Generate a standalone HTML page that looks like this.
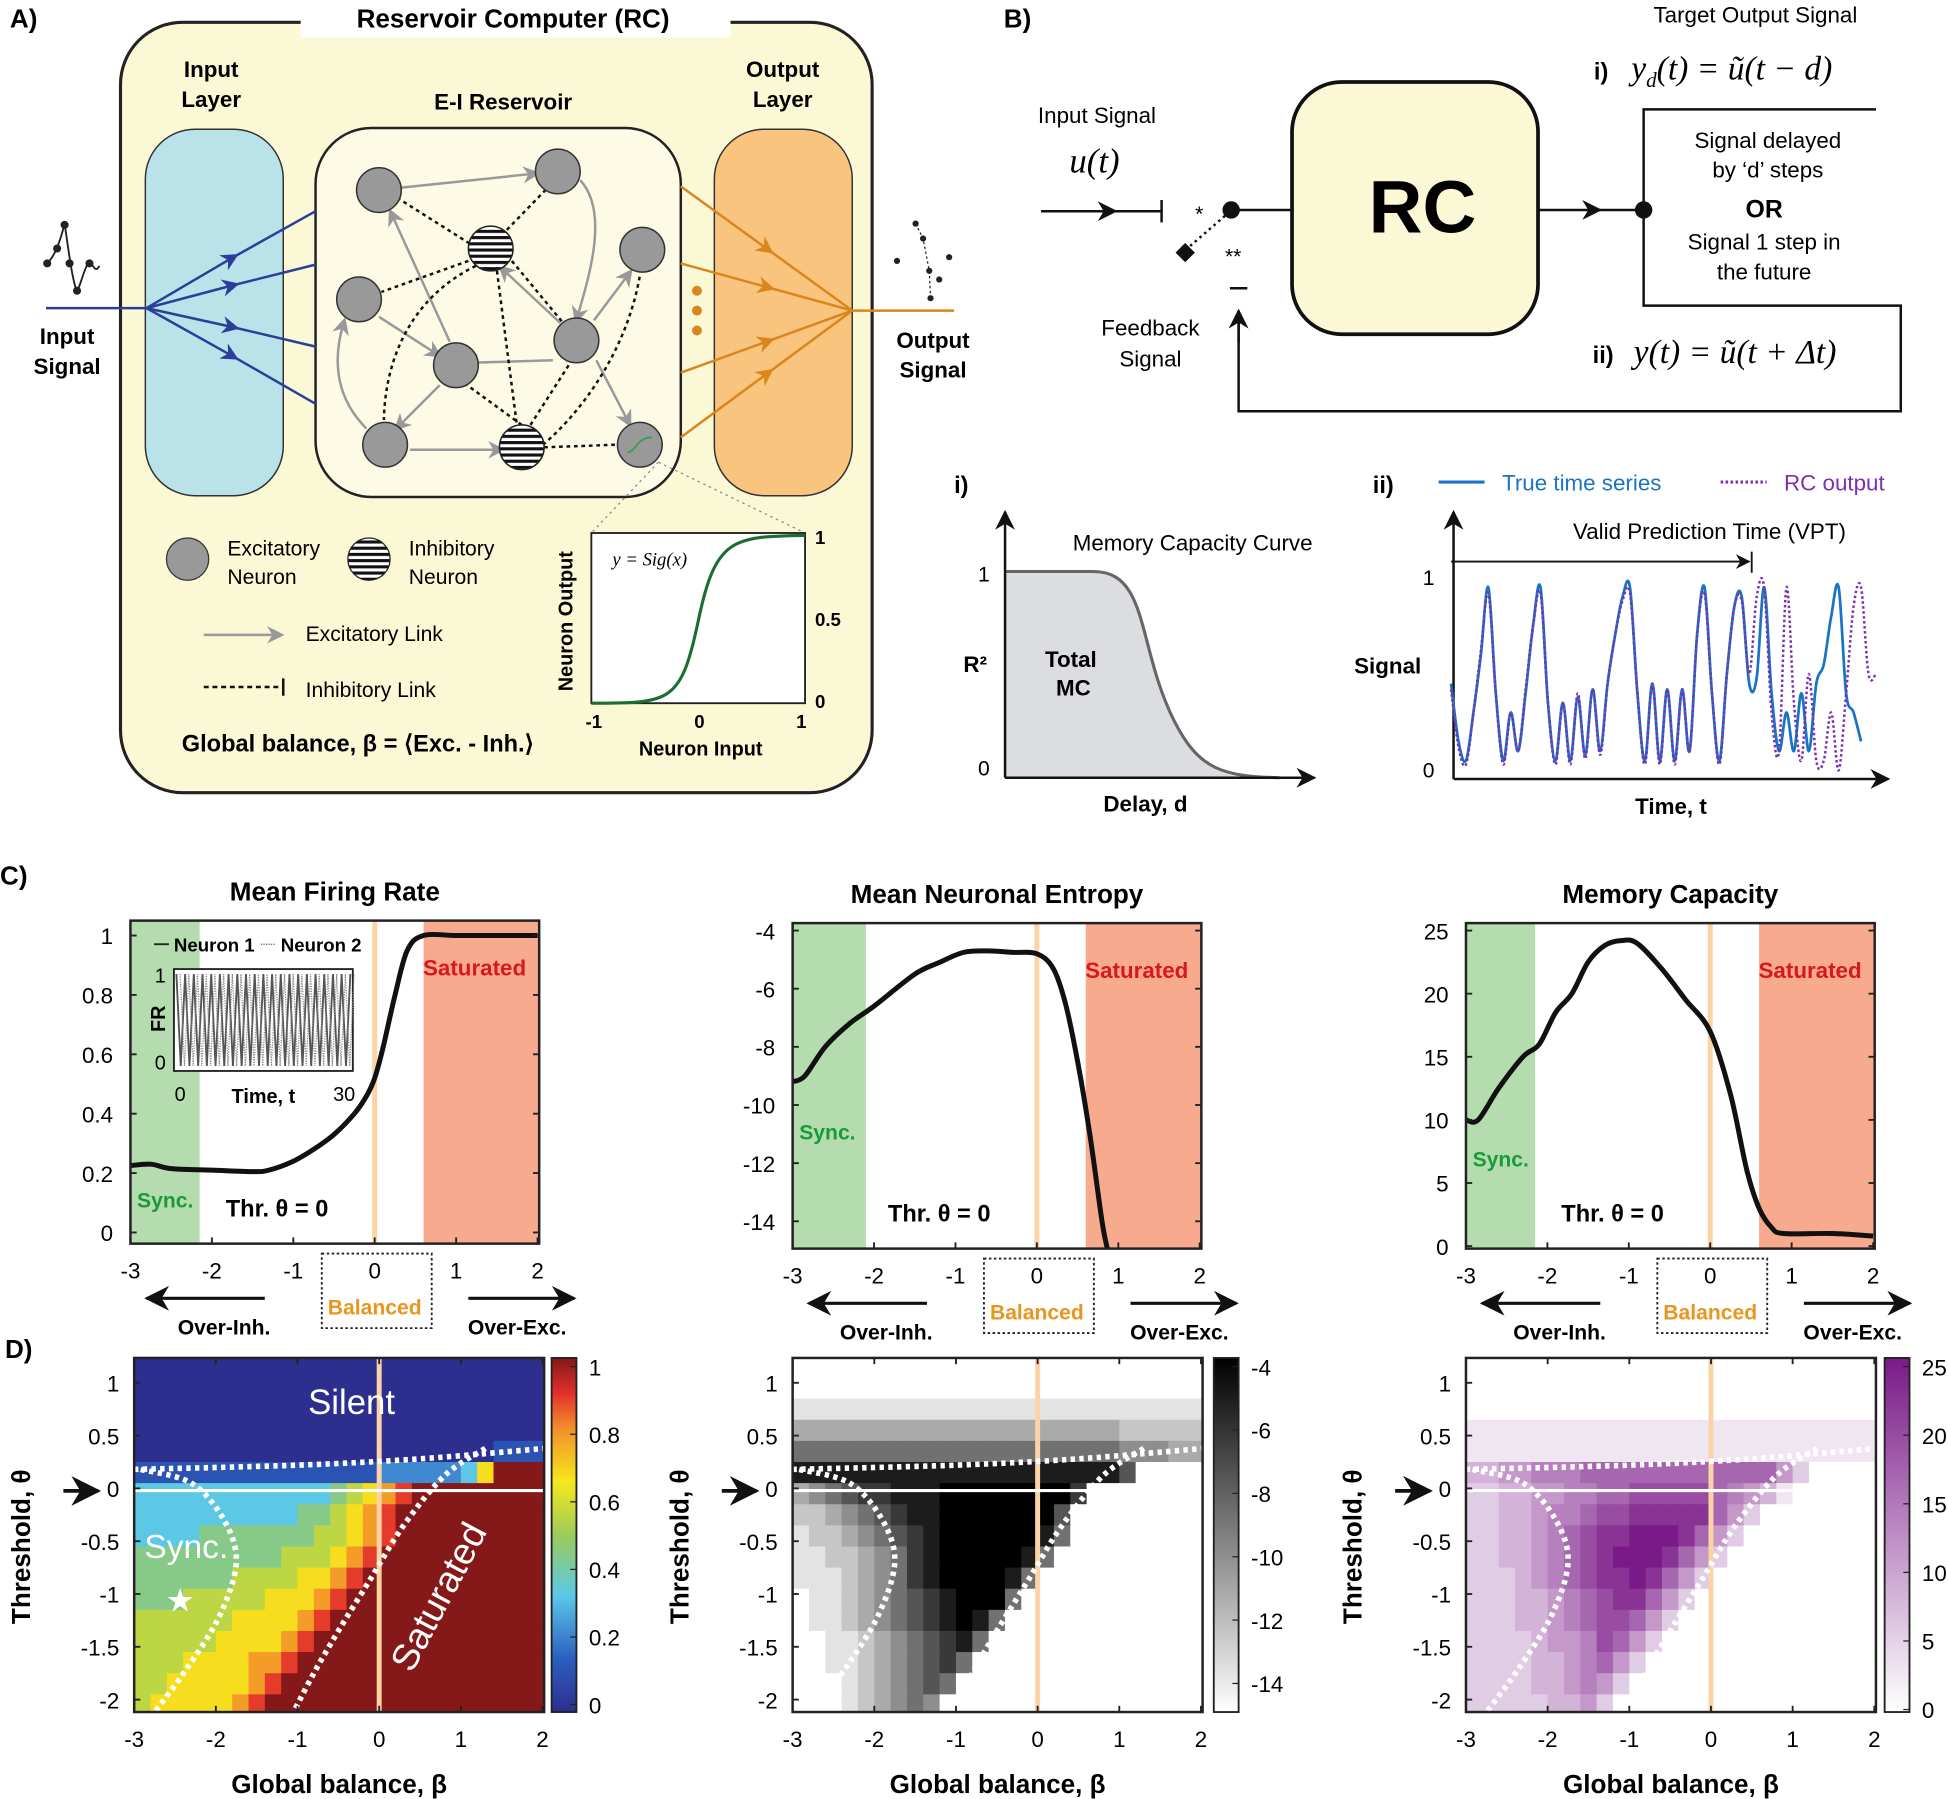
<!DOCTYPE html>
<html><head><meta charset="utf-8"><style>
html,body{margin:0;padding:0;background:#fff}
svg{display:block}
text{font-family:"Liberation Sans",Arial,sans-serif}
.b{font-weight:bold}
.serif{font-family:"Liberation Serif",serif;font-style:italic}
</style></head><body>
<svg id="fig" width="1948" height="1799" viewBox="0 0 1568 1448" preserveAspectRatio="none" xmlns="http://www.w3.org/2000/svg">
<defs>
<pattern id="stripe" width="4" height="5" patternUnits="userSpaceOnUse"><rect width="4" height="5" fill="#fff"/><rect width="4" height="2.5" fill="#111"/></pattern>
<marker id="ah" viewBox="0 0 10 10" refX="5" refY="5" markerWidth="7" markerHeight="7" orient="auto"><path d="M0,0 L10,5 L0,10 L3,5 z" fill="#999"/></marker>
<marker id="ahk" viewBox="0 0 10 10" refX="9" refY="5" markerWidth="8" markerHeight="8" orient="auto"><path d="M0,0 L10,5 L0,10 L3,5 z" fill="#111"/></marker>
<marker id="ahb" viewBox="0 0 10 10" refX="5" refY="5" markerWidth="7" markerHeight="7" orient="auto"><path d="M0,0 L10,5 L0,10 L3,5 z" fill="#2b3e9a"/></marker>
<marker id="aho" viewBox="0 0 10 10" refX="5" refY="5" markerWidth="7" markerHeight="7" orient="auto"><path d="M0,0 L10,5 L0,10 L3,5 z" fill="#d9861c"/></marker>
<linearGradient id="gJet" x1="0" y1="1" x2="0" y2="0">
<stop offset="0" stop-color="#2c2f8e"/><stop offset="0.15" stop-color="#2b5fc0"/><stop offset="0.33" stop-color="#5cc8e8"/><stop offset="0.5" stop-color="#9ccb5a"/><stop offset="0.65" stop-color="#f6e81c"/><stop offset="0.8" stop-color="#f2902a"/><stop offset="0.9" stop-color="#e2302a"/><stop offset="1" stop-color="#851818"/></linearGradient>
<linearGradient id="gGray" x1="0" y1="1" x2="0" y2="0"><stop offset="0" stop-color="#fff"/><stop offset="1" stop-color="#000"/></linearGradient>
<linearGradient id="gPur" x1="0" y1="1" x2="0" y2="0"><stop offset="0" stop-color="#fff"/><stop offset="1" stop-color="#7a1a88"/></linearGradient>
</defs>

<g>
<text x="8" y="22" class="b" font-size="21">A)</text>
<rect x="97" y="18" width="605" height="620" rx="50" fill="#fbf8d6" stroke="#222" stroke-width="2.5"/>
<rect x="242" y="2" width="346" height="28" fill="#fff"/>
<text x="413" y="22" text-anchor="middle" class="b" font-size="21">Reservoir Computer (RC)</text>
<rect x="117" y="104" width="111" height="295" rx="40" fill="#b9e3e8" stroke="#333" stroke-width="1.2"/>
<rect x="575" y="104" width="111" height="295" rx="40" fill="#f9c47e" stroke="#333" stroke-width="1.2"/>
<rect x="254" y="103" width="294" height="297" rx="45" fill="#fdfbe6" stroke="#222" stroke-width="2"/>
<text x="170" y="62" text-anchor="middle" class="b" font-size="18">Input</text>
<text x="170" y="86" text-anchor="middle" class="b" font-size="18">Layer</text>
<text x="405" y="88" text-anchor="middle" class="b" font-size="18">E-I Reservoir</text>
<text x="630" y="62" text-anchor="middle" class="b" font-size="18">Output</text>
<text x="630" y="86" text-anchor="middle" class="b" font-size="18">Layer</text>
<text x="54" y="277" text-anchor="middle" class="b" font-size="18">Input</text>
<text x="54" y="301" text-anchor="middle" class="b" font-size="18">Signal</text>
<text x="751" y="280" text-anchor="middle" class="b" font-size="18">Output</text>
<text x="751" y="304" text-anchor="middle" class="b" font-size="18">Signal</text>
<g stroke="#222" stroke-width="1.5" fill="none">
<path d="M38,212 C44,206 48,196 52,180 C55,200 58,225 62,235 C66,226 68,215 72,210 C75,214 77,220 80,214"/>
<circle cx="38" cy="212" r="2.5" fill="#222"/><circle cx="46" cy="200" r="2.5" fill="#222"/><circle cx="52" cy="181" r="2.5" fill="#222"/><circle cx="56" cy="212" r="2.5" fill="#222"/><circle cx="62" cy="234" r="2.5" fill="#222"/><circle cx="72" cy="212" r="2.5" fill="#222"/>
</g>
<g fill="#222">
<circle cx="722" cy="210" r="2.5"/><circle cx="737" cy="180" r="2.5"/><circle cx="743" cy="192" r="2.5"/><circle cx="748" cy="218" r="2.5"/><circle cx="756" cy="225" r="2.5"/><circle cx="764" cy="207" r="2.5"/><circle cx="749" cy="240" r="2.5"/>
<path d="M737,180 L743,192 L748,218 L749,240" stroke="#222" stroke-dasharray="2 2" fill="none"/>
</g>
<g stroke="#2b3e9a" stroke-width="2" fill="none">
<line x1="37" y1="248" x2="118" y2="248"/>
<path d="M118,248 L186,208 L254,170" marker-mid="url(#ahb)"/>
<path d="M118,248 L186,230 L254,213" marker-mid="url(#ahb)"/>
<path d="M118,248 L186,263 L254,279" marker-mid="url(#ahb)"/>
<path d="M118,248 L186,286 L254,325" marker-mid="url(#ahb)"/>
</g>
<g stroke="#d9861c" stroke-width="2" fill="none">
<path d="M548,150 L617,200 L686,250" marker-mid="url(#aho)"/>
<path d="M548,212 L617,231 L686,250" marker-mid="url(#aho)"/>
<path d="M548,300 L617,275 L686,250" marker-mid="url(#aho)"/>
<path d="M548,352 L617,301 L686,250" marker-mid="url(#aho)"/>
<line x1="686" y1="250" x2="768" y2="250"/>
</g>
<circle cx="561" cy="234" r="4" fill="#d9861c"/><circle cx="561" cy="250" r="4" fill="#d9861c"/><circle cx="561" cy="266" r="4" fill="#d9861c"/>
<g fill="none">
<g stroke="#999" stroke-width="2" marker-end="url(#ah)">
<line x1="323" y1="151" x2="428" y2="140"/>
<path d="M467,145 C490,170 475,220 465,254"/>
<line x1="451" y1="260" x2="406" y2="218"/>
<line x1="478" y1="258" x2="505" y2="222"/>
<line x1="480" y1="290" x2="505" y2="338"/>
<line x1="362" y1="275" x2="316" y2="174"/>
<line x1="305" y1="255" x2="350" y2="284"/>
<line x1="354" y1="310" x2="322" y2="342"/>
<path d="M295,345 C270,320 268,290 276,262"/>
<line x1="330" y1="362" x2="400" y2="362"/>
<line x1="445" y1="290" x2="378" y2="292"/>
</g>
<g stroke="#111" stroke-width="2" stroke-dasharray="3 3">
<line x1="378" y1="196" x2="321" y2="160"/><line x1="408" y1="185" x2="440" y2="152"/>
<line x1="377" y1="210" x2="307" y2="235"/>
<path d="M383,214 C330,240 310,290 309,338"/>
<line x1="400" y1="218" x2="416" y2="342"/>
<line x1="412" y1="210" x2="455" y2="262"/>
<line x1="420" y1="342" x2="376" y2="310"/>
<line x1="427" y1="342" x2="459" y2="292"/>
<path d="M437,358 C470,330 505,280 515,222"/>
<line x1="438" y1="360" x2="495" y2="358"/>
</g>
</g>
<g fill="#999" stroke="#333" stroke-width="1.2">
<circle cx="305" cy="153" r="18"/><circle cx="449" cy="138" r="18"/><circle cx="289" cy="241" r="18"/><circle cx="517" cy="201" r="18"/><circle cx="464" cy="274" r="18"/><circle cx="367" cy="294" r="18"/><circle cx="310" cy="358" r="18"/><circle cx="515" cy="358" r="18"/>
</g>
<path d="M505,364 C512,364 512,352 525,352" stroke="#3a9c5a" stroke-width="1.5" fill="none"/>
<g stroke="#222" stroke-width="1.2" fill="url(#stripe)">
<circle cx="395" cy="200" r="18"/><circle cx="420" cy="360" r="18"/>
</g>
<g>
<circle cx="151" cy="450" r="17" fill="#999" stroke="#333"/>
<text x="183" y="447" font-size="17">Excitatory</text><text x="183" y="470" font-size="17">Neuron</text>
<circle cx="297" cy="450" r="17" fill="url(#stripe)" stroke="#222"/>
<text x="329" y="447" font-size="17">Inhibitory</text><text x="329" y="470" font-size="17">Neuron</text>
<line x1="164" y1="511" x2="222" y2="511" stroke="#999" stroke-width="2" marker-end="url(#ah)"/>
<text x="246" y="516" font-size="17">Excitatory Link</text>
<line x1="164" y1="553" x2="224" y2="553" stroke="#111" stroke-width="2" stroke-dasharray="4 3"/>
<line x1="228" y1="546" x2="228" y2="560" stroke="#111" stroke-width="2"/>
<text x="246" y="561" font-size="17">Inhibitory Link</text>
<text x="288" y="605" text-anchor="middle" class="b" font-size="19">Global balance, β = ⟨Exc. - Inh.⟩</text>
</g>
<g>
<line x1="530" y1="372" x2="476" y2="429" stroke="#888" stroke-dasharray="2 3"/>
<line x1="530" y1="372" x2="648" y2="429" stroke="#888" stroke-dasharray="2 3"/>
<rect x="476" y="429" width="172" height="137" fill="#fff" stroke="#222" stroke-width="1.5"/>
<path d="M476,566 C540,566 548,566 562,500 C576,432 590,432 648,431" stroke="#1a6e2f" stroke-width="2.5" fill="none"/>
<text x="523" y="455" text-anchor="middle" class="serif" font-size="15">y = Sig(x)</text>
<text x="656" y="438" font-size="15" class="b">1</text><text x="656" y="504" font-size="15" class="b">0.5</text><text x="656" y="570" font-size="15" class="b">0</text>
<text x="478" y="586" text-anchor="middle" font-size="15" class="b">-1</text><text x="563" y="586" text-anchor="middle" font-size="15" class="b">0</text><text x="645" y="586" text-anchor="middle" font-size="15" class="b">1</text>
<text x="564" y="608" text-anchor="middle" font-size="16" class="b">Neuron Input</text>
<text transform="translate(461,500) rotate(-90)" text-anchor="middle" font-size="16" class="b">Neuron Output</text>
</g>
</g>

<g>
<text x="808" y="22" class="b" font-size="21">B)</text>
<text x="1413" y="18" text-anchor="middle" font-size="18">Target Output Signal</text>
<text x="1283" y="64" class="b" font-size="19">i)</text>
<text x="1313" y="64" class="serif" font-size="27">y<tspan font-size="17" dy="6">d</tspan><tspan dy="-6">(t) = ũ(t − d)</tspan></text>
<text x="1282" y="292" class="b" font-size="19">ii)</text>
<text x="1315" y="292" class="serif" font-size="27">y(t) = ũ(t + Δt)</text>
<text x="1423" y="119" text-anchor="middle" font-size="18">Signal delayed</text>
<text x="1423" y="143" text-anchor="middle" font-size="18">by ‘d’ steps</text>
<text x="1420" y="175" text-anchor="middle" class="b" font-size="20">OR</text>
<text x="1420" y="201" text-anchor="middle" font-size="18">Signal 1 step in</text>
<text x="1420" y="225" text-anchor="middle" font-size="18">the future</text>
<text x="883" y="99" text-anchor="middle" font-size="18">Input Signal</text>
<text x="881" y="139" text-anchor="middle" class="serif" font-size="28">u(t)</text>
<text x="926" y="270" text-anchor="middle" font-size="18">Feedback</text>
<text x="926" y="295" text-anchor="middle" font-size="18">Signal</text>
<g stroke="#111" stroke-width="2" fill="none">
<line x1="838" y1="170" x2="898" y2="170" marker-end="url(#ahk)"/><line x1="895" y1="170" x2="935" y2="170"/>
<line x1="935" y1="161" x2="935" y2="179"/>
<line x1="958" y1="198" x2="988" y2="172" stroke-dasharray="2 3"/>
<line x1="991" y1="169" x2="1040" y2="169"/>
<line x1="1238" y1="169" x2="1288" y2="169" marker-end="url(#ahk)"/><line x1="1285" y1="169" x2="1323" y2="169"/>
<polyline points="1323,169 1323,88 1510,88"/>
<polyline points="1323,169 1323,246 1530,246 1530,331 997,331 997,256"/>
<line x1="997" y1="276" x2="997" y2="250" marker-end="url(#ahk)"/>
<line x1="990" y1="232" x2="1004" y2="232"/>
</g>
<circle cx="991" cy="169" r="7" fill="#111"/>
<circle cx="1323" cy="169" r="7" fill="#111"/>
<rect x="948" y="198" width="11" height="11" transform="rotate(45 954 204)" fill="#111"/>
<text x="962" y="178" font-size="17">*</text><text x="986" y="212" font-size="17">**</text>
<rect x="1040" y="66" width="198" height="203" rx="40" fill="#fbf8d6" stroke="#111" stroke-width="3"/>
<text x="1145" y="187" text-anchor="middle" class="b" font-size="60">RC</text>

<g>
<text x="768" y="397" class="b" font-size="19">i)</text>
<path d="M809,460 L880,460 C925,460 915,520 945,580 C965,620 985,625 1010,626 L809,626 Z" fill="#dcdde0"/>
<path d="M809,460 L880,460 C925,460 915,520 945,580 C965,620 985,625 1030,626" stroke="#666" stroke-width="2.5" fill="none"/>
<line x1="809" y1="626" x2="809" y2="412" stroke="#111" stroke-width="2" marker-end="url(#ahk)"/>
<line x1="809" y1="626" x2="1058" y2="626" stroke="#111" stroke-width="2" marker-end="url(#ahk)"/>
<text x="792" y="468" font-size="17" text-anchor="middle">1</text>
<text x="792" y="624" font-size="17" text-anchor="middle">0</text>
<text x="785" y="541" font-size="18" text-anchor="middle" class="b">R²</text>
<text x="862" y="537" font-size="18" text-anchor="middle" class="b">Total</text>
<text x="864" y="560" font-size="18" text-anchor="middle" class="b">MC</text>
<text x="960" y="443" font-size="18" text-anchor="middle">Memory Capacity Curve</text>
<text x="922" y="653" font-size="18" text-anchor="middle" class="b">Delay, d</text>
</g>
<g id="sigplot">
<text x="1105" y="397" class="b" font-size="19">ii)</text>
<line x1="1158" y1="388" x2="1195" y2="388" stroke="#1a74c4" stroke-width="2.5"/>
<text x="1209" y="395" font-size="18" fill="#1a74c4">True time series</text>
<line x1="1385" y1="388" x2="1422" y2="388" stroke="#7a30b0" stroke-width="2.5" stroke-dasharray="2 2"/>
<text x="1436" y="395" font-size="18" fill="#7a30b0">RC output</text>
<line x1="1170" y1="627" x2="1170" y2="412" stroke="#111" stroke-width="2" marker-end="url(#ahk)"/>
<line x1="1170" y1="627" x2="1520" y2="627" stroke="#111" stroke-width="2" marker-end="url(#ahk)"/>
<line x1="1168" y1="452" x2="1408" y2="452" stroke="#111" stroke-width="1.5" marker-end="url(#ahk)"/>
<line x1="1410" y1="444" x2="1410" y2="461" stroke="#111" stroke-width="1.5"/>
<text x="1376" y="434" font-size="18" text-anchor="middle">Valid Prediction Time (VPT)</text>
<text x="1150" y="471" font-size="17" text-anchor="middle">1</text>
<text x="1150" y="626" font-size="17" text-anchor="middle">0</text>
<text x="1117" y="542" font-size="18" text-anchor="middle" class="b">Signal</text>
<text x="1345" y="655" font-size="18" text-anchor="middle" class="b">Time, t</text>
</g>
</g>

<text x="0" y="712" class="b" font-size="21">C)</text>
<text x="4" y="1093" class="b" font-size="21">D)</text>
<g id="chartsC"></g>
<g id="chartsD"></g>
</svg>

<script>
const sigTrue = [0.45,0.15,0.05,0.3,0.6,0.95,0.4,0.05,0.3,0.1,0.4,0.75,0.95,0.35,0.05,0.35,0.05,0.38,0.08,0.42,0.1,0.45,0.7,0.9,0.95,0.4,0.05,0.45,0.05,0.42,0.05,0.42,0.1,0.7,0.95,0.4,0.05,0.5,0.85,0.9,0.45,0.48,0.95,0.4,0.1,0.3,0.1,0.4,0.1,0.45,0.55,0.8,0.95,0.4,0.3,0.15];
const sigRC = [0.42,0.12,0.03,0.3,0.62,0.92,0.4,0.03,0.3,0.1,0.42,0.75,0.92,0.35,0.03,0.35,0.03,0.4,0.06,0.42,0.08,0.45,0.7,0.88,0.92,0.4,0.03,0.45,0.03,0.42,0.03,0.42,0.1,0.7,0.92,0.4,0.03,0.5,0.85,0.88,0.5,0.9,0.95,0.3,0.1,0.95,0.35,0.05,0.5,0.05,0.05,0.3,0.0,0.4,0.85,0.95,0.5,0.5];

const betaFR = [-3,-2.75,-2.5,-2,-1.5,-1.3,-1,-0.75,-0.5,-0.25,-0.1,0,0.1,0.25,0.4,0.6,1,1.5,2];
const valFR  = [0.225,0.23,0.215,0.21,0.205,0.21,0.24,0.28,0.33,0.4,0.46,0.52,0.62,0.8,0.95,1.0,1.0,1.0,1.0];
const betaEnt = [-3,-2.85,-2.6,-2.3,-2,-1.5,-1.2,-0.9,-0.6,-0.3,0,0.2,0.35,0.5,0.65,0.8,0.87];
const valEnt  = [-9.2,-9,-8,-7.2,-6.6,-5.5,-5.1,-4.75,-4.7,-4.75,-4.8,-5.3,-6.5,-8.5,-11,-14,-15];
const betaMC = [-3,-2.85,-2.6,-2.3,-2.1,-1.9,-1.7,-1.5,-1.3,-1.1,-0.9,-0.6,-0.3,0,0.25,0.45,0.6,0.75,0.9,1.5,2];
const valMC  = [10,10,12.5,15,16,18.5,20,22.5,23.8,24.2,24,22,19.5,17,12,6,3,1.5,1.0,1.0,0.8];
const xTicks = [-3,-2,-1,0,1,2];
const yTicksFR = [0,0.2,0.4,0.6,0.8,1];
const yTicksEnt = [-14,-12,-10,-8,-6,-4];
const yTicksMC = [0,5,10,15,20,25];
const insetFR = [1,0,1,0,1,0,1,0,1,0,1,0,1,0,1,0,1,0,1,0,1,0,1,0,1,0,1,0,1,0,1,0,1,0,1,0,1,0,1,0,1];

const thetaRows = [1.15,0.95,0.75,0.55,0.35,0.15,-0.05,-0.25,-0.45,-0.65,-0.85,-1.05,-1.25,-1.45,-1.65,-1.85,-2.05];
const gridFR = [
"0000000000000000000000000","0000000000000000000000000","0000000000000000000000000","0000000000000000000000000",
"0000000000000000000000111","1111111111111112222236999","3333333333334567899999999","3333333333445678999999999",
"3333444444455678999999999","4444444445556789999999999","4444445555667899999999999","4445555566678999999999999",
"5555556666789999999999999","5555566667899999999999999","5556666778999999999999999","5566666789999999999999999",
"5666667899999999999999999"];
const gridEnt = [
"0000000000000000000000000","0000000000000000000000000","1111111111111111111111111","3333333333333333333322222",
"5555555555555555555544433","8888888888888888888860000","3456778889999999970000000","2234567889999999600000000",
"1223456789999998500000000","1122345789999985000000000","1112345789999850000000000","0112345678999500000000000",
"0112345678985000000000000","0011234567850000000000000","0011234567500000000000000","0001234565000000000000000",
"0001234540000000000000000"];
const gridMC = [
"0000000000000000000000000","0000000000000000000000000","0000000000000000000000000","1111111111111111111111111",
"1111111111111111111111111","3344555666666666666420000","2233445566777776543100000","2233455677888886420000000",
"2233456788999864200000000","2233456789998642000000000","2223456788986420000000000","2223345678864200000000000",
"2223345677642000000000000","2222344576420000000000000","2222334564200000000000000","2222334542000000000000000",
"2222233420000000000000000"];
const yTicksTheta = [-2,-1.5,-1,-0.5,0,0.5,1];
const cbTicksFR = [0,0.2,0.4,0.6,0.8,1];
const cbTicksEnt = [-14,-12,-10,-8,-6,-4];
const cbTicksMC = [0,5,10,15,20,25];
const syncCurve = [[-2.92,0.18],[-2.3,0.05],[-1.9,-0.3],[-1.75,-0.7],[-1.95,-1.2],[-2.35,-1.7],[-2.75,-2.12]];
const satCurve = [[1.3,0.38],[0.8,0.12],[0.3,-0.35],[-0.1,-0.85],[-0.5,-1.35],[-0.8,-1.75],[-1.05,-2.12]];
const silentCurve = [[-3,0.18],[-1,0.22],[0.5,0.28],[2.05,0.38]];

const NS = "http://www.w3.org/2000/svg";
function mk(tag, attrs, parent){const e=document.createElementNS(NS,tag);for(const k in attrs)e.setAttribute(k,attrs[k]);parent.appendChild(e);return e;}
function txt(x,y,s,size,parent,anchor,extra){const t=mk('text',Object.assign({x:x,y:y,'font-size':size,'text-anchor':anchor||'middle'},extra||{}),parent);t.textContent=s;return t;}
function smooth(pts){let d='M'+pts[0][0]+','+pts[0][1];for(let i=0;i<pts.length-1;i++){const p0=pts[Math.max(i-1,0)],p1=pts[i],p2=pts[i+1],p3=pts[Math.min(i+2,pts.length-1)];
  d+=' C'+(p1[0]+(p2[0]-p0[0])/6)+','+(p1[1]+(p2[1]-p0[1])/6)+' '+(p2[0]-(p3[0]-p1[0])/6)+','+(p2[1]-(p3[1]-p1[1])/6)+' '+p2[0]+','+p2[1];}return d;}

(function(){
  const g=document.getElementById('sigplot');
  const sx=i=>1168+6*i, sy=v=>620-155*v;
  const p1=mk('path',{d:smooth(sigTrue.map((v,i)=>[sx(i),sy(v)])),fill:'none',stroke:'#1a74c4','stroke-width':2.2},g);
  
  
  const p2=mk('path',{d:smooth(sigRC.map((v,i)=>[sx(i),sy(v)])),fill:'none',stroke:'#7a30b0','stroke-width':2,'stroke-dasharray':'2 2'},g);
  
  
})();

function lineChart(cfg){
  const root=document.getElementById('chartsC');
  const g=mk('g',{},root);
  
  
  const X=b=>cfg.x0+(b+3)*(cfg.x1-cfg.x0)/5.02;
  const Y=v=>cfg.yA+(v-cfg.vA)*(cfg.yB-cfg.yA)/(cfg.vB-cfg.vA);
  const L=cfg.x0,R=cfg.x1,T=cfg.top,B=cfg.bot;
  const cp=mk('clipPath',{id:cfg.name+'-clip'},g);mk('rect',{x:L,y:T,width:R-L,height:B-T},cp);
  const gz=mk('rect',{x:L,y:T,width:X(cfg.syncEnd)-L,height:B-T,fill:'#b5dcaf'},g);
  
  
  const rz=mk('rect',{x:X(0.6),y:T,width:R-X(0.6),height:B-T,fill:'#f8aa8e'},g);
  
  
  mk('line',{x1:X(0),x2:X(0),y1:T,y2:B,stroke:'#fbd3a4','stroke-width':4},g);
  txt(R-52,T+44,'Saturated',18,g,'middle',{fill:'#d7191c','font-weight':'bold'});
  txt(L+cfg.syncX,cfg.syncY,'Sync.',17,g,'middle',{fill:'#1a9a3a','font-weight':'bold'});
  txt(L+118,cfg.thrY,'Thr. θ = 0',19,g,'middle',{'font-weight':'bold'});
  const pl=mk('path',{d:smooth(cfg.bx.map((b,i)=>[X(b),Y(cfg.vals[i])])),fill:'none',stroke:'#111','stroke-width':4,'stroke-linejoin':'round','clip-path':'url(#'+cfg.name+'-clip)'},g);
  
  
  mk('rect',{x:L,y:T,width:R-L,height:B-T,fill:'none',stroke:'#222','stroke-width':2},g);
  cfg.yt.forEach(v=>{mk('line',{x1:L,x2:L+5,y1:Y(v),y2:Y(v),stroke:'#222','stroke-width':1.5},g);mk('line',{x1:R,x2:R-5,y1:Y(v),y2:Y(v),stroke:'#222','stroke-width':1.5},g);
    const t=txt(L-14,Y(v)+7,String(v),18,g,'end');});
  xTicks.forEach(b=>{mk('line',{x1:X(b),x2:X(b),y1:B,y2:B-5,stroke:'#222','stroke-width':1.5},g);
    const t=txt(X(b),B+28,String(b),18,g);});
  txt((L+R)/2,T-16,cfg.title,21,g,'middle',{'font-weight':'bold'});
  mk('rect',{x:X(-0.65),y:B+8,width:X(0.7)-X(-0.65),height:60,fill:'none',stroke:'#222','stroke-width':1.5,'stroke-dasharray':'2 2'},g);
  txt(X(0),B+57,'Balanced',17,g,'middle',{fill:'#e8961e','font-weight':'bold'});
  mk('line',{x1:X(-1.35),y1:B+44,x2:X(-2.8),y2:B+44,stroke:'#111','stroke-width':2.5,'marker-end':'url(#ahk)'},g);
  txt(X(-1.85),B+73,'Over-Inh.',17,g,'middle',{'font-weight':'bold'});
  mk('line',{x1:X(1.15),y1:B+44,x2:X(2.45),y2:B+44,stroke:'#111','stroke-width':2.5,'marker-end':'url(#ahk)'},g);
  txt(X(1.75),B+73,'Over-Exc.',17,g,'middle',{'font-weight':'bold'});
  return g;
}
const g1=lineChart({name:'chart-mean-firing-rate',title:'Mean Firing Rate',x0:105,x1:434,top:741,bot:1001,yA:992,vA:0,yB:753,vB:1,bx:betaFR,vals:valFR,yt:yTicksFR,syncEnd:-2.15,syncX:28,syncY:972,thrY:979});
lineChart({name:'chart-mean-entropy',title:'Mean Neuronal Entropy',x0:638,x1:967,top:743,bot:1005,yA:749,vA:-4,yB:983,vB:-14,bx:betaEnt,vals:valEnt,yt:yTicksEnt,syncEnd:-2.1,syncX:28,syncY:917,thrY:983});
lineChart({name:'chart-memory-capacity',title:'Memory Capacity',x0:1180,x1:1509,top:743,bot:1005,yA:1003,vA:0,yB:749,vB:25,bx:betaMC,vals:valMC,yt:yTicksMC,syncEnd:-2.15,syncX:28,syncY:939,thrY:983});
(function(){
  const g=mk('g',{},g1);
  
  
  mk('rect',{x:140,y:780,width:144,height:82,fill:'#fff',stroke:'#222','stroke-width':1.5},g);
  const ix=i=>142+i*140/(insetFR.length-1), iy=v=>858-74*v;
  const a=mk('polyline',{points:insetFR.map((v,i)=>ix(i)+','+iy(v)).join(' '),fill:'none',stroke:'#555','stroke-width':1.5},g);
  
  
  const b=mk('polyline',{points:insetFR.map((v,i)=>(ix(i)+3)+','+iy(v)).join(' '),fill:'none',stroke:'#888','stroke-width':1,'stroke-dasharray':'1 1'},g);
  
  
  txt(129,791,'1',16,g);txt(129,861,'0',16,g);
  txt(145,886,'0',16,g);txt(277,886,'30',16,g);txt(212,888,'Time, t',16,g,'middle',{'font-weight':'bold'});
  txt(0,0,'FR',16,g,'middle',{'font-weight':'bold',transform:'translate(133,820) rotate(-90)'});
  mk('line',{x1:124,x2:136,y1:760,y2:760,stroke:'#222','stroke-width':1.5},g);
  txt(140,766,'Neuron 1',15,g,'start',{'font-weight':'bold'});
  mk('line',{x1:210,x2:222,y1:760,y2:760,stroke:'#555','stroke-width':1,'stroke-dasharray':'1 1'},g);
  txt(226,766,'Neuron 2',15,g,'start',{'font-weight':'bold'});
})();

const jetStops=[[0,[44,47,142]],[0.15,[43,95,192]],[0.33,[92,200,232]],[0.5,[156,203,90]],[0.65,[246,232,28]],[0.8,[242,144,42]],[0.9,[226,48,42]],[1,[133,24,24]]];
function jet(t){for(let i=0;i<jetStops.length-1;i++){const a=jetStops[i],b=jetStops[i+1];if(t<=b[0]){const f=(t-a[0])/(b[0]-a[0]);return 'rgb('+a[1].map((c,k)=>Math.round(c+(b[1][k]-c)*f)).join(',')+')';}}return 'rgb(133,24,24)';}
function grayC(t){const v=Math.round(255*(1-t));return 'rgb('+v+','+v+','+v+')';}
function purC(t){return 'rgb('+Math.round(255-(255-122)*t)+','+Math.round(255-(255-26)*t)+','+Math.round(255-(255-136)*t)+')';}
function heatmap(cfg){
  const root=document.getElementById('chartsD');
  const g=mk('g',{},root);
  
  
  const X=b=>cfg.x0+(b+3)*(cfg.x1-cfg.x0)/5.02;
  const Y=th=>1113+(1-th)*85;
  const T=1093,B=1378;
  const cp=mk('clipPath',{id:cfg.name+'-clip'},g);mk('rect',{x:cfg.x0,y:T,width:cfg.x1-cfg.x0,height:B-T},cp);
  const cells=mk('g',{'clip-path':'url(#'+cfg.name+'-clip)'},g);
  mk('rect',{x:cfg.x0,y:T,width:cfg.x1-cfg.x0,height:B-T,fill:cfg.color(0)},cells);
  cfg.grid.forEach((row,ri)=>{
    const th=thetaRows[ri];
    for(let c=0;c<25;c++){
      const ch=row[Math.min(c,row.length-1)];
      const d=parseInt(ch,10)/9;
      const b0=-3+0.2*c;
      const r=mk('rect',{x:X(b0),y:Y(th+0.1),width:X(b0+0.2)-X(b0)+0.6,height:Y(th-0.1)-Y(th+0.1)+0.6,fill:cfg.color(d)},cells);
      
      
    }
  });
  const lines=mk('g',{'clip-path':'url(#'+cfg.name+'-clip)'},g);
  mk('line',{x1:X(0),x2:X(0),y1:T,y2:B,stroke:'#fbd3a4','stroke-width':4},lines);
  mk('line',{x1:cfg.x0,x2:cfg.x1,y1:Y(-0.02),y2:Y(-0.02),stroke:'#fff','stroke-width':2.5},lines);
  [syncCurve,satCurve,silentCurve].forEach((pts,k)=>{
    const p=mk('path',{d:smooth(pts.map(q=>[X(q[0]),Y(q[1])])),fill:'none',stroke:'#fff','stroke-width':4.5,'stroke-dasharray':'3.5 3.5','stroke-linejoin':'round'},lines);
    
    
  });
  mk('rect',{x:cfg.x0,y:T,width:cfg.x1-cfg.x0,height:B-T,fill:'none',stroke:'#222','stroke-width':2},g);
  yTicksTheta.forEach(v=>{mk('line',{x1:cfg.x0,x2:cfg.x0+5,y1:Y(v),y2:Y(v),stroke:'#222','stroke-width':1.5},g);
    const t=txt(cfg.x0-12,Y(v)+7,String(v),18,g,'end');});
  xTicks.forEach(b=>{mk('line',{x1:X(b),x2:X(b),y1:B,y2:B-5,stroke:'#222','stroke-width':1.5},g);mk('line',{x1:X(b),x2:X(b),y1:T,y2:T+5,stroke:'#222','stroke-width':1.5},g);
    const t=txt(X(b),B+28,String(b),18,g);});
  txt((cfg.x0+cfg.x1)/2,B+65,'Global balance, β',21,g,'middle',{'font-weight':'bold'});
  txt(0,0,'Threshold, θ',21,g,'middle',{'font-weight':'bold',transform:'translate('+(cfg.x0-84)+',1245) rotate(-90)'});
  mk('line',{x1:cfg.x0-57,x2:cfg.x0-29,y1:1200,y2:1200,stroke:'#111','stroke-width':3,'marker-end':'url(#ahk)'},g);
  const cb=mk('rect',{x:cfg.cbx,y:T,width:20,height:B-T,fill:cfg.grad,stroke:'#222','stroke-width':1.5},g);
  
  
  cfg.cbTicks.forEach(v=>{const yy=cfg.cbY(v);mk('line',{x1:cfg.cbx+15,x2:cfg.cbx+20,y1:yy,y2:yy,stroke:'#222'},g);
    const t=txt(cfg.cbx+30,yy+7,String(v),18,g,'start');});
  return g;
}
const h1=heatmap({name:'heatmap-firing-rate',x0:108,x1:438,grid:gridFR,color:jet,grad:'url(#gJet)',cbx:444,cbTicks:cbTicksFR,cbY:v=>1100+(1-v)*272});
heatmap({name:'heatmap-entropy',x0:638,x1:968,grid:gridEnt,color:grayC,grad:'url(#gGray)',cbx:977,cbTicks:cbTicksEnt,cbY:v=>1100+(-4-v)*25.5});
heatmap({name:'heatmap-memory-capacity',x0:1180,x1:1510,grid:gridMC,color:purC,grad:'url(#gPur)',cbx:1517,cbTicks:cbTicksMC,cbY:v=>1100+(25-v)*11.04});
txt(283,1138,'Silent',28,h1,'middle',{fill:'#fff'});
txt(150,1254,'Sync.',27,h1,'middle',{fill:'#fff'});
txt(145,1297,'★',26,h1,'middle',{fill:'#fff'});
txt(0,0,'Saturated',30,h1,'middle',{fill:'#fff',transform:'translate(362,1290) rotate(-62)'});
</script>
</body></html>
